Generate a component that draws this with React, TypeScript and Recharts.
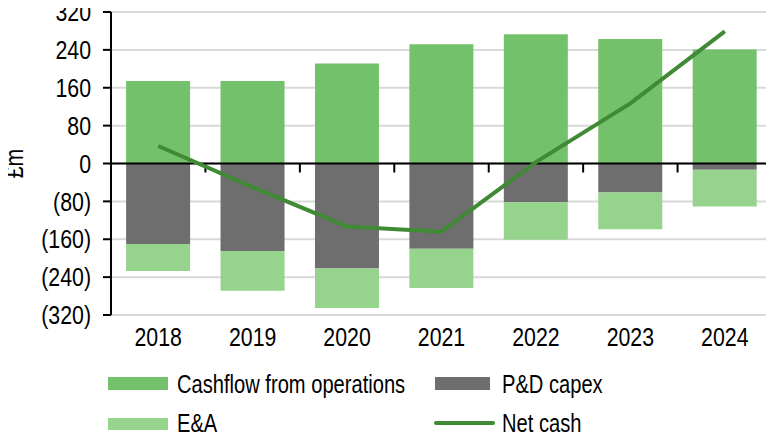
import React from 'react';
import {
  ComposedChart,
  Bar,
  Line,
  XAxis,
  YAxis,
  CartesianGrid,
  ReferenceLine,
  Legend,
} from 'recharts';

const years = ['2018', '2019', '2020', '2021', '2022', '2023', '2024'];
const cashflowOps = [174, 174, 211, 252, 273, 263, 241];
const pdCapex = [-170, -185, -222, -180, -82, -61, -13];
const exploration = [-57, -84, -83, -83, -79, -78, -78];
const netCash = [37, -50, -133, -144, 3, 127, 279];
const yTicks = [-320, -240, -160, -80, 0, 80, 160, 240, 320];

const COLORS = {
  cfo: '#73C16A',
  pd: '#6E6E6E',
  ea: '#96D38C',
  net: '#408A36',
};

const FONT = '"Liberation Sans", Arial, sans-serif';
const SQUEEZE = 0.82;
const LEGEND_SQUEEZE = 0.805;

const data = years.map((year, i) => ({
  year,
  cfo: cashflowOps[i],
  pd: pdCapex[i],
  ea: exploration[i],
  net: netCash[i],
}));

const fmt = (v: number) => (v < 0 ? `(${Math.abs(v)})` : `${v}`);

const YTick = (props: any) => {
  const { x, y, payload } = props;
  return (
    <g transform={`translate(${x},${y})`}>
      <text
        transform={`scale(${SQUEEZE},1)`}
        textAnchor="end"
        dy="0.355em"
        fontSize={26}
        fontFamily={FONT}
        fill="#000"
      >
        {fmt(payload.value)}
      </text>
    </g>
  );
};

const XTick = (props: any) => {
  const { x, y, payload } = props;
  return (
    <g transform={`translate(${x},${y})`}>
      <text
        transform={`scale(${SQUEEZE},1)`}
        textAnchor="middle"
        dy="0.71em"
        fontSize={26}
        fontFamily={FONT}
        fill="#000"
      >
        {payload.value}
      </text>
    </g>
  );
};

const ZeroLine = (props: any) => {
  const { x1, y1, x2, y2 } = props;
  const n = years.length;
  const step = (x2 - x1) / n;
  const ticks = [];
  for (let i = 1; i <= n; i++) {
    const x = x1 + i * step;
    ticks.push(<line key={i} x1={x} x2={x} y1={y1} y2={y1 + 9} stroke="#000" strokeWidth={2} />);
  }
  return (
    <g>
      <line x1={x1} y1={y1} x2={x2} y2={y2} stroke="#000" strokeWidth={2} />
      {ticks}
    </g>
  );
};

const LegendContent = () => {
  const text: React.CSSProperties = {
    position: 'absolute',
    fontFamily: FONT,
    fontSize: 25,
    color: '#000',
    lineHeight: '25px',
    whiteSpace: 'nowrap',
    transform: `scaleX(${LEGEND_SQUEEZE})`,
    transformOrigin: 'left center',
  };
  return (
    <div style={{ position: 'relative', width: 774, height: 67 }}>
      <div style={{ position: 'absolute', left: 108, top: 9, width: 60, height: 13, background: COLORS.cfo }} />
      <div style={{ ...text, left: 177, top: 3.5 }}>Cashflow from operations</div>
      <div style={{ position: 'absolute', left: 435, top: 9, width: 55, height: 13, background: COLORS.pd }} />
      <div style={{ ...text, left: 502, top: 3.5 }}>P&amp;D capex</div>
      <div style={{ position: 'absolute', left: 108, top: 50, width: 60, height: 12, background: COLORS.ea }} />
      <div style={{ ...text, left: 177, top: 43 }}>E&amp;A</div>
      <div style={{ position: 'absolute', left: 434, top: 53, width: 61, height: 4, borderRadius: 2, background: COLORS.net }} />
      <div style={{ ...text, left: 502, top: 43 }}>Net cash</div>
    </div>
  );
};

export default function App() {
  return (
    <div style={{ width: 774, height: 435, margin: '-8px 0 0 -8px', fontFamily: FONT }}>
      <ComposedChart
        width={774}
        height={435}
        data={data}
        stackOffset="sign"
        barCategoryGap="16%"
        margin={{ top: 12, right: 2, left: 0, bottom: 0 }}
      >
        <CartesianGrid vertical={false} stroke="#D9D9D9" strokeWidth={2} />
        <XAxis
          dataKey="year"
          height={120}
          axisLine={false}
          tickLine={false}
          tickSize={0}
          tickMargin={13}
          interval={0}
          tick={<XTick />}
        />
        <YAxis
          width={111}
          domain={[-320, 320]}
          ticks={yTicks}
          interval={0}
          tickSize={8}
          tickMargin={12}
          axisLine={{ stroke: '#000', strokeWidth: 2 }}
          tickLine={{ stroke: '#000', strokeWidth: 2 }}
          tick={<YTick />}
          label={{
            content: (p: any) => {
              const vb = p.viewBox;
              const cx = vb.x + 14;
              const cy = vb.y + vb.height / 2;
              return (
                <text
                  transform={`translate(${cx},${cy}) rotate(-90) scale(${SQUEEZE},1)`}
                  textAnchor="middle"
                  dominantBaseline="central"
                  fontSize={26}
                  fontFamily={FONT}
                  fill="#000"
                >
                  £m
                </text>
              );
            },
          }}
        />
        <Bar dataKey="cfo" name="Cashflow from operations" stackId="a" fill={COLORS.cfo} isAnimationActive={false} />
        <Bar dataKey="pd" name="P&D capex" stackId="a" fill={COLORS.pd} isAnimationActive={false} />
        <Bar dataKey="ea" name="E&A" stackId="a" fill={COLORS.ea} isAnimationActive={false} />
        <ReferenceLine y={0} shape={ZeroLine} />
        <Line
          dataKey="net"
          name="Net cash"
          type="linear"
          stroke={COLORS.net}
          strokeWidth={4}
          dot={false}
          activeDot={false}
          isAnimationActive={false}
        />
        <Legend
          layout="horizontal"
          verticalAlign="middle"
          align="center"
          content={<LegendContent />}
          wrapperStyle={{ position: 'absolute', top: 368, left: 0, width: 774, height: 67 }}
        />
      </ComposedChart>
    </div>
  );
}
